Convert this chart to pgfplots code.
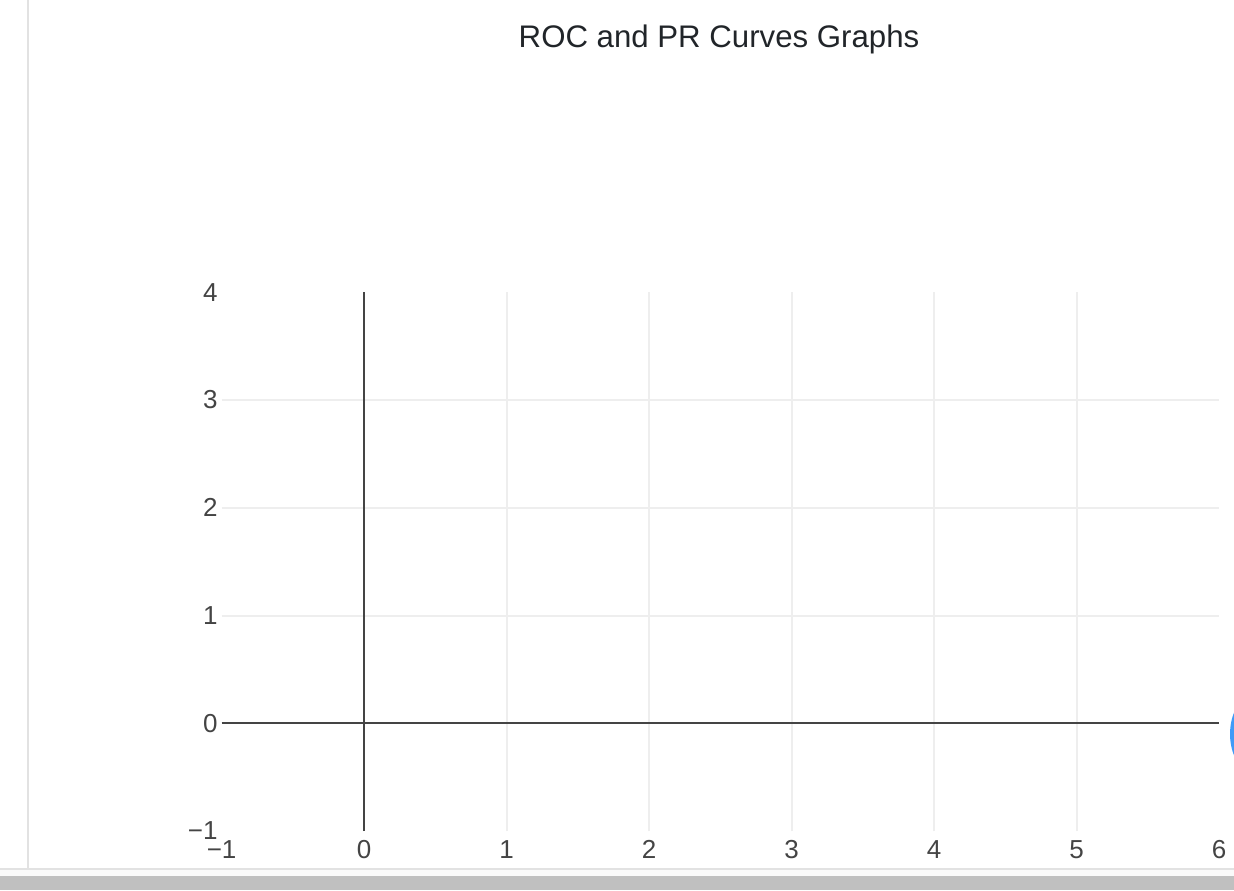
\documentclass[border=0pt]{standalone}
\usepackage{fontspec}
\setmainfont{Liberation Sans}
\usepackage{pgfplots}
\pgfplotsset{compat=1.18}
\definecolor{tickgrey}{HTML}{444444}
\definecolor{gridgrey}{HTML}{EEEEEE}
\definecolor{framegrey}{HTML}{E2E2E2}
\definecolor{gapgrey}{HTML}{FAFAFA}
\definecolor{bandgrey}{HTML}{C0C0C0}
\definecolor{fabblue}{HTML}{3F9BF7}
\definecolor{titlegrey}{HTML}{212529}
\begin{document}
% 1 px of the reference = 0.5pt
\begin{tikzpicture}[x=0.5pt,y=-0.5pt]
    \useasboundingbox (0,0) rectangle (1234,890);
    \fill[white] (0,0) rectangle (1234,890);
    \begin{scope}
        \clip (0,0) rectangle (1234,890);
        \fill[framegrey] (27,0) rectangle (29,870);
        \fill[framegrey] (0,868) rectangle (1234,870);
        \fill[gapgrey] (0,870) rectangle (1234,876);
        \fill[bandgrey] (0,876) rectangle (1234,890);
        \fill[fabblue] (1290,734) circle (60);
    \end{scope}
    \node[text=titlegrey,font=\fontsize{15.6pt}{19pt}\selectfont] at (719,39) {ROC and PR Curves Graphs};
    \begin{axis}[
        at={(110.8pt,-415.5pt)},
        anchor=south west,
        x=71.25pt,
        y=53.875pt,
        xmin=-1, xmax=6,
        ymin=-1, ymax=4,
        axis line style={draw=none},
        clip=false,
        grid=major,
        major grid style={gridgrey,line width=1pt},
        major tick length=0pt,
        tick label style={text=tickgrey,font=\fontsize{13pt}{15pt}\selectfont},
        x tick label style={anchor=base,yshift=-13.5pt},
        y tick label style={xshift=1.5pt},
        xtick={1,2,3,4,5},
        xticklabels={1,2,3,4,5},
        ytick={1,2,3},
        yticklabels={1,2,3},
        extra x ticks={-1,0,6},
        extra x tick labels={−1,0,6},
        extra x tick style={grid=none},
        extra y ticks={-1,0,4},
        extra y tick labels={−1,0,4},
        extra y tick style={grid=none},
    ]
    \addplot[tickgrey,line width=1.1pt,forget plot] coordinates {(-1,0) (6,0)};
    \addplot[tickgrey,line width=1.1pt,forget plot] coordinates {(0,-1) (0,4)};
    \end{axis}
\end{tikzpicture}
\end{document}
